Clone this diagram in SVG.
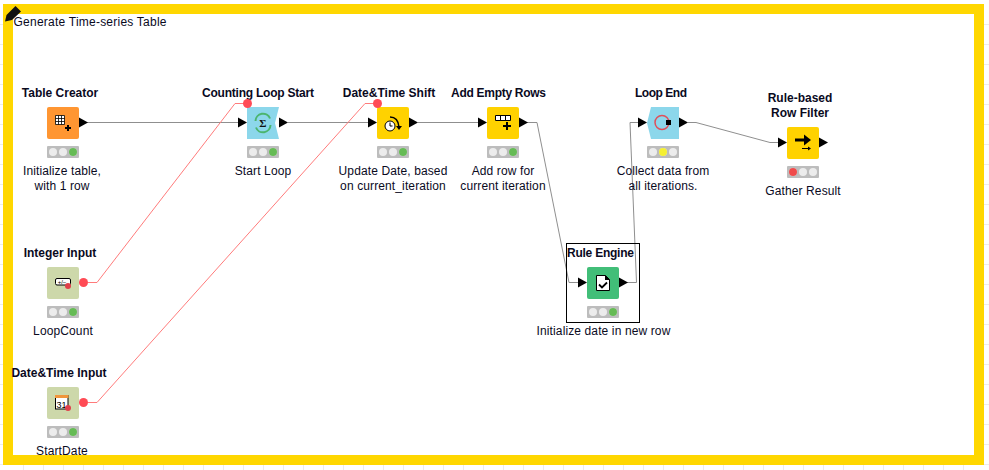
<svg xmlns="http://www.w3.org/2000/svg" width="989" height="470" viewBox="0 0 989 470">
<style>
text{font-family:"Liberation Sans",Arial,sans-serif;font-size:12px;fill:#0a0a1e;text-anchor:middle;letter-spacing:.12px}
.t{font-weight:bold;letter-spacing:0}
.c{fill:none;stroke:#8f8f8f;stroke-width:1}
.v{fill:none;stroke:#ff7b7b;stroke-width:1}
.g{fill:none;stroke:#ececec;stroke-width:1}
.tl{fill:#bdbdbd}
.off{fill:#ececec}
.dot{fill:#ff4b55}
.k{fill:#000}
.w{fill:#fff;stroke:#000;stroke-width:1}
</style>
<defs>
<polygon id="p" points="0,-5 9,0 0,5" fill="#000"/>
<g id="lg"><rect class="tl" x="0" y="0" width="32" height="12" rx="1"/><circle class="off" cx="6" cy="6" r="4"/><circle class="off" cx="16" cy="6" r="4"/><circle class="off" cx="26" cy="6" r="4"/></g>
</defs>
<rect width="989" height="470" fill="#fff"/>
<path class="g" d="M0 24.500H3M0 44.500H3M0 64.500H3M0 84.500H3M0 104.500H3M0 124.500H3M0 144.500H3M0 164.500H3M0 184.500H3M0 204.500H3M0 224.500H3M0 244.500H3M0 264.500H3M0 284.500H3M0 304.500H3M0 324.500H3M0 344.500H3M0 364.500H3M0 384.500H3M0 404.500H3M0 424.500H3M0 444.500H3M984 24.500H989M984 44.500H989M984 64.500H989M984 84.500H989M984 104.500H989M984 124.500H989M984 144.500H989M984 164.500H989M984 184.500H989M984 204.500H989M984 224.500H989M984 244.500H989M984 264.500H989M984 284.500H989M984 304.500H989M984 324.500H989M984 344.500H989M984 364.500H989M984 384.500H989M984 404.500H989M984 424.500H989M984 444.500H989M0 464.500H989"/>
<path class="g" d="M23.500 465V470M43.500 465V470M63.500 465V470M83.500 465V470M103.500 465V470M123.500 465V470M143.500 465V470M163.500 465V470M183.500 465V470M203.500 465V470M223.500 465V470M243.500 465V470M263.500 465V470M283.500 465V470M303.500 465V470M323.500 465V470M343.500 465V470M363.500 465V470M383.500 465V470M403.500 465V470M423.500 465V470M443.500 465V470M463.500 465V470M483.500 465V470M503.500 465V470M523.500 465V470M543.500 465V470M563.500 465V470M583.500 465V470M603.500 465V470M623.500 465V470M643.500 465V470M663.500 465V470M683.500 465V470M703.500 465V470M723.500 465V470M743.500 465V470M763.500 465V470M783.500 465V470M803.500 465V470M823.500 465V470M843.500 465V470M863.500 465V470M883.500 465V470M903.500 465V470M923.500 465V470M943.500 465V470M963.500 465V470"/>
<g id="annotation">
<rect x="8" y="9" width="971" height="451" fill="#fff" stroke="#ffd700" stroke-width="10"/>
<text x="13.500" y="26" textLength="153" style="text-anchor:start;letter-spacing:0">Generate Time-series Table</text>
<path d="M5 21.500 L6.500 15 L15.500 6 L21 11.500 L12 20 Z" fill="#111"/>
</g>
<g id="connectors">
<path class="c" d="M87 122.500H238"/>
<path class="c" d="M288 122.500H368"/>
<path class="c" d="M418 122.500H478"/>
<path class="c" d="M527 122.500H537L569 282.500H578"/>
<path class="c" d="M627 282.500H636.500L630 122.500H638"/>
<path class="c" d="M688 122.500H696L770 142.500H778"/>
<path class="v" d="M88 282.500H97L235 103.500H247"/>
<path class="v" d="M88 402.500H97L365 103.500H377"/>
</g>
<g id="table-creator">
<text class="t" x="60" y="97">Table Creator</text>
<rect x="47" y="107" width="32" height="32" rx="2" fill="#ff9632"/>
<path d="M55.500 115.500h9v9h-9zM58.500 115.500v9M61.500 115.500v9M55.500 118.500h9M55.500 121.500h9" fill="#fff" stroke="#000" stroke-width=".8"/>
<path d="M65 128h6M68 125v6" stroke="#000" stroke-width="2"/>
<use href="#p" x="79" y="122.500"/>
<use href="#lg" x="47" y="146"/>
<circle cx="73" cy="152" r="4" fill="#66bb55"/>
<text x="62" y="175">Initialize table,</text>
<text x="62" y="190">with 1 row</text>
</g>
<g id="counting-loop-start">
<text class="t" x="258" y="97" textLength="112">Counting Loop Start</text>
<path d="M247 107H279L275 123L279 139H247Z" fill="#8cd7eb"/>
<path d="M255.500 121A7.500 7.500 0 0 1 270 118.500M270.500 125A7.500 7.500 0 0 1 256 127.500" fill="none" stroke="#4bb56e" stroke-width="2"/>
<text x="263" y="127" style="font-size:11px;font-family:'Liberation Serif',serif;font-weight:bold;fill:#111">Σ</text>
<use href="#p" x="238" y="122.500"/>
<use href="#p" x="279" y="122.500"/>
<circle class="dot" cx="247.500" cy="103.500" r="4.500"/>
<use href="#lg" x="247" y="146"/>
<circle cx="273" cy="152" r="4" fill="#66bb55"/>
<text x="263" y="175">Start Loop</text>
</g>
<g id="date-time-shift">
<text class="t" x="389" y="97">Date&amp;Time Shift</text>
<rect x="377" y="107" width="32" height="32" rx="2" fill="#ffd200"/>
<circle cx="390" cy="126" r="5" fill="#fff" stroke="#000"/>
<path d="M390 122.500v3.500h2.500" fill="none" stroke="#000"/>
<path d="M390 117Q398 117 399 127" fill="none" stroke="#000" stroke-width="1.500"/>
<path d="M396 126h6l-3 4z" fill="#000"/>
<use href="#p" x="368" y="122.500"/>
<use href="#p" x="409" y="122.500"/>
<circle class="dot" cx="377.500" cy="103.500" r="4.500"/>
<use href="#lg" x="377" y="146"/>
<circle cx="403" cy="152" r="4" fill="#66bb55"/>
<text x="393" y="175">Update Date, based</text>
<text x="393" y="190">on current_iteration</text>
</g>
<g id="add-empty-rows">
<text class="t" x="498.500" y="97" textLength="95">Add Empty Rows</text>
<rect x="487" y="107" width="32" height="32" rx="2" fill="#ffd200"/>
<path d="M495.500 115.500h15v5h-15zM500.500 115.500v5M505.500 115.500v5" fill="#fff" stroke="#000"/>
<path d="M503 126h8M507 122v8" stroke="#000" stroke-width="2"/>
<use href="#p" x="478" y="122.500"/>
<use href="#p" x="519" y="122.500"/>
<use href="#lg" x="487" y="146"/>
<circle cx="513" cy="152" r="4" fill="#66bb55"/>
<text x="503" y="175">Add row for</text>
<text x="503" y="190">current iteration</text>
</g>
<g id="loop-end">
<text class="t" x="661" y="97" textLength="52">Loop End</text>
<path d="M651 107H679V139H651L647 123Z" fill="#8cd7eb"/>
<circle cx="662" cy="122.500" r="7" fill="none" stroke="#e0505a" stroke-width="1.500"/>
<rect x="666" y="120" width="5" height="5" fill="#000"/>
<use href="#p" x="638" y="122.500"/>
<use href="#p" x="679" y="122.500"/>
<use href="#lg" x="647" y="146"/>
<circle cx="663" cy="152" r="4" fill="#f5f032"/>
<text x="663" y="175">Collect data from</text>
<text x="663" y="190">all iterations.</text>
</g>
<g id="rule-based-row-filter">
<text class="t" x="800" y="102">Rule-based</text>
<text class="t" x="800" y="117">Row Filter</text>
<rect x="787" y="127" width="32" height="32" rx="2" fill="#ffd200"/>
<path d="M795 140h10" stroke="#000" stroke-width="3"/>
<path d="M804 134.500l7 5.500l-7 5.500z" fill="#000"/>
<path d="M802 148.500h8" stroke="#000"/>
<path d="M808 146.500l3 2l-3 2z" fill="#000"/>
<use href="#p" x="778" y="142.500"/>
<use href="#p" x="819" y="142.500"/>
<use href="#lg" x="787" y="166"/>
<circle cx="793" cy="172" r="4" fill="#f04b4b"/>
<text x="803" y="195">Gather Result</text>
</g>
<g id="integer-input">
<text class="t" x="60" y="257">Integer Input</text>
<rect x="47" y="267" width="32" height="32" rx="2" fill="#cdd8aa"/>
<rect x="55.500" y="278.500" width="15" height="6.500" rx="1.500" fill="#fff" stroke="#000"/>
<text x="62" y="284" style="font-size:6px;fill:#000;letter-spacing:0">+/−</text>
<circle cx="68" cy="286" r="3" fill="#e0404a"/>
<circle class="dot" cx="83.500" cy="282.500" r="4.500"/>
<use href="#lg" x="47" y="306"/>
<circle cx="73" cy="312" r="4" fill="#66bb55"/>
<text x="63" y="335">LoopCount</text>
</g>
<g id="date-time-input">
<text class="t" x="59" y="377">Date&amp;Time Input</text>
<rect x="47" y="387" width="32" height="32" rx="2" fill="#cdd8aa"/>
<rect x="55.500" y="395.500" width="12.500" height="13.500" fill="#fff" stroke="#000"/>
<rect x="55" y="395" width="13.500" height="3" fill="#f0963c"/>
<text x="61.500" y="407.500" style="font-size:9px;fill:#000;letter-spacing:0">31</text>
<circle cx="68" cy="408" r="3" fill="#e0404a"/>
<circle class="dot" cx="83.500" cy="402.500" r="4.500"/>
<use href="#lg" x="47" y="426"/>
<circle cx="73" cy="432" r="4" fill="#66bb55"/>
<text x="62" y="455">StartDate</text>
</g>
<g id="rule-engine">
<rect x="566.500" y="243.500" width="73" height="79" fill="none" stroke="#000" stroke-width="1"/>
<text class="t" x="600.500" y="257" textLength="67">Rule Engine</text>
<rect x="587" y="267" width="32" height="32" rx="2" fill="#41be78"/>
<path d="M596.500 275.500h9l4 4v11h-13z" fill="#fff" stroke="#000"/>
<path d="M605 275v5h5z" fill="#000"/>
<path d="M599 284.500l3 3l5-5" fill="none" stroke="#000" stroke-width="1.800"/>
<use href="#p" x="578" y="282.500"/>
<use href="#p" x="619" y="282.500"/>
<use href="#lg" x="587" y="306"/>
<circle cx="613" cy="312" r="4" fill="#66bb55"/>
<text x="603.500" y="335">Initialize date in new row</text>
</g>
</svg>
